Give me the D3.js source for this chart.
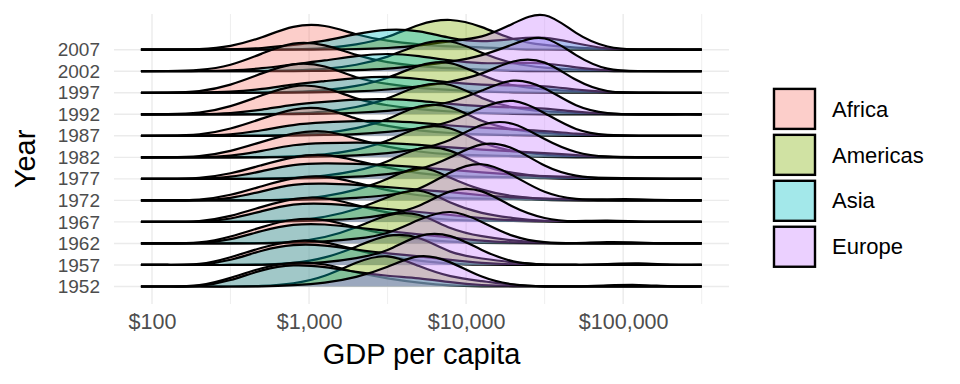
<!DOCTYPE html>
<html>
<head>
<meta charset="utf-8">
<script src="https://cdn.jsdelivr.net/npm/d3@7"></script>
<style>
  body { margin: 0; background: #fff; }
  svg text { font-family: "Liberation Sans", Arial, sans-serif; }
</style>
</head>
<body>
<div id="chart"></div>
<script>
// ---- data ----
const years = [1952, 1957, 1962, 1967, 1972, 1977, 1982, 1987, 1992, 1997, 2002, 2007];
const continents = ["Africa", "Americas", "Asia", "Europe"];
const colors = ["#F8766D", "#7CAE00", "#00BFC4", "#C77CFF"];
// GDP per capita values where the ridge heights were read
const gdpGrid = [85, 126, 200, 316, 501, 794, 1259, 1995, 3162, 5012, 7943, 12589, 19953, 31623, 50119, 79433, 125893, 199526, 316228];
const xTicks = [100, 1000, 10000, 100000];
const xMinor = [316, 3162, 31623, 316228];

// ridge heights (in row spacings), one row per year, 1952 first
const africa = [
  [0,0,0.06,0.4,0.85,1.1,1.02,0.66,0.38,0.18,0.05,0.01,0,0,0,0,0,0,0],
  [0,0,0.05,0.36,0.8,1.1,1.05,0.7,0.4,0.2,0.06,0.01,0,0,0,0,0,0,0],
  [0,0,0.05,0.32,0.76,1.1,1.08,0.74,0.42,0.2,0.08,0.03,0.01,0,0,0,0,0,0],
  [0,0,0.04,0.28,0.7,1.06,1.1,0.78,0.44,0.22,0.1,0.06,0.05,0.02,0,0,0,0,0],
  [0,0,0.04,0.26,0.66,1.02,1.1,0.82,0.48,0.24,0.12,0.08,0.07,0.02,0,0,0,0,0],
  [0,0,0.05,0.26,0.64,1.0,1.1,0.85,0.52,0.27,0.14,0.09,0.08,0.03,0,0,0,0,0],
  [0,0.01,0.06,0.3,0.72,1.1,1.2,0.86,0.5,0.27,0.14,0.09,0.06,0.02,0,0,0,0,0],
  [0,0.01,0.07,0.34,0.8,1.22,1.24,0.8,0.46,0.25,0.13,0.07,0.03,0.01,0,0,0,0,0],
  [0,0.01,0.08,0.38,0.88,1.3,1.22,0.74,0.42,0.24,0.13,0.06,0.02,0,0,0,0,0,0],
  [0,0.01,0.08,0.38,0.9,1.32,1.22,0.72,0.41,0.23,0.13,0.06,0.02,0,0,0,0,0,0],
  [0,0.01,0.06,0.3,0.82,1.28,1.2,0.76,0.42,0.24,0.14,0.07,0.02,0,0,0,0,0,0],
  [0,0,0.03,0.18,0.58,1.06,1.1,0.72,0.42,0.25,0.15,0.11,0.04,0.01,0,0,0,0,0]
];
const americas = [
  [0,0,0,0,0.03,0.15,0.5,1.1,1.4,0.95,0.48,0.25,0.08,0.01,0,0,0,0,0],
  [0,0,0,0,0.02,0.1,0.35,0.85,1.35,1.25,0.62,0.3,0.12,0.02,0,0,0,0,0],
  [0,0,0,0,0.02,0.08,0.3,0.75,1.3,1.32,0.72,0.34,0.14,0.03,0,0,0,0,0],
  [0,0,0,0,0.02,0.07,0.24,0.6,1.15,1.45,0.9,0.42,0.18,0.05,0.01,0,0,0,0],
  [0,0,0,0,0.01,0.06,0.2,0.5,1.0,1.5,1.05,0.5,0.2,0.07,0.01,0,0,0,0],
  [0,0,0,0,0.01,0.05,0.15,0.38,0.82,1.4,1.3,0.65,0.28,0.1,0.02,0,0,0,0],
  [0,0,0,0,0.01,0.05,0.14,0.36,0.78,1.36,1.34,0.7,0.3,0.12,0.04,0.01,0,0,0],
  [0,0,0,0,0.01,0.05,0.14,0.36,0.78,1.36,1.32,0.7,0.3,0.13,0.05,0.01,0,0,0],
  [0,0,0,0,0.01,0.04,0.13,0.34,0.74,1.3,1.36,0.76,0.32,0.14,0.06,0.01,0,0,0],
  [0,0,0,0,0.01,0.04,0.12,0.32,0.7,1.25,1.38,0.82,0.35,0.16,0.07,0.02,0,0,0],
  [0,0,0,0,0.01,0.04,0.11,0.3,0.68,1.22,1.38,0.86,0.38,0.17,0.08,0.02,0,0,0],
  [0,0,0,0,0.01,0.02,0.08,0.25,0.6,1.15,1.38,1.05,0.5,0.22,0.1,0.03,0,0,0]
];
const asia = [
  [0,0,0.03,0.3,0.75,0.98,0.9,0.68,0.5,0.38,0.2,0.07,0.02,0.01,0.01,0.05,0.07,0.01,0],
  [0,0,0.02,0.24,0.66,0.92,0.9,0.72,0.54,0.4,0.24,0.1,0.03,0.01,0.01,0.04,0.07,0.01,0],
  [0,0,0.02,0.2,0.58,0.86,0.88,0.74,0.58,0.42,0.28,0.13,0.05,0.02,0.02,0.06,0.04,0,0],
  [0,0,0.01,0.16,0.5,0.8,0.84,0.74,0.6,0.46,0.32,0.18,0.08,0.04,0.04,0.06,0.02,0,0],
  [0,0,0.01,0.12,0.42,0.72,0.78,0.72,0.62,0.5,0.38,0.24,0.14,0.08,0.04,0.05,0.05,0.01,0],
  [0,0,0.01,0.1,0.36,0.64,0.72,0.7,0.64,0.54,0.42,0.3,0.2,0.13,0.08,0.05,0.02,0,0],
  [0,0,0.01,0.08,0.3,0.56,0.66,0.68,0.66,0.58,0.46,0.36,0.28,0.2,0.1,0.03,0.01,0,0],
  [0,0,0.01,0.07,0.26,0.5,0.62,0.68,0.68,0.6,0.48,0.38,0.3,0.22,0.1,0.02,0,0,0],
  [0,0,0.01,0.06,0.22,0.44,0.58,0.68,0.7,0.62,0.48,0.38,0.32,0.26,0.12,0.03,0,0,0],
  [0,0,0.01,0.05,0.18,0.38,0.54,0.68,0.74,0.64,0.48,0.38,0.34,0.3,0.15,0.04,0,0,0],
  [0,0,0.01,0.04,0.14,0.32,0.5,0.7,0.8,0.7,0.5,0.38,0.38,0.36,0.18,0.04,0,0,0],
  [0,0,0,0.02,0.08,0.22,0.42,0.72,0.92,0.85,0.55,0.4,0.5,0.55,0.3,0.06,0.01,0,0]
];
const europe = [
  [0,0,0,0,0.01,0.06,0.18,0.45,0.92,1.4,1.12,0.46,0.1,0.01,0,0,0,0,0],
  [0,0,0,0,0.01,0.05,0.13,0.32,0.7,1.34,1.34,0.7,0.17,0.02,0,0,0,0,0],
  [0,0,0,0,0,0.04,0.1,0.22,0.5,1.1,1.46,1.0,0.35,0.06,0.01,0,0,0,0],
  [0,0,0,0,0,0.03,0.08,0.16,0.35,0.75,1.42,1.42,0.7,0.18,0.02,0,0,0,0],
  [0,0,0,0,0,0.02,0.06,0.12,0.25,0.55,1.3,1.68,1.15,0.4,0.07,0.01,0,0,0],
  [0,0,0,0,0,0.02,0.05,0.1,0.22,0.45,1.0,1.6,1.4,0.62,0.15,0.02,0,0,0],
  [0,0,0,0,0,0.01,0.04,0.09,0.2,0.4,0.82,1.5,1.55,0.85,0.25,0.03,0,0,0],
  [0,0,0,0,0,0.01,0.04,0.08,0.18,0.35,0.68,1.3,1.62,1.05,0.32,0.04,0,0,0],
  [0,0,0,0,0,0.01,0.03,0.07,0.16,0.32,0.58,1.1,1.56,1.2,0.42,0.06,0,0,0],
  [0,0,0,0,0,0.01,0.03,0.06,0.15,0.3,0.52,0.9,1.45,1.4,0.6,0.08,0.01,0,0],
  [0,0,0,0,0,0,0.02,0.05,0.12,0.26,0.45,0.75,1.25,1.52,0.75,0.12,0.01,0,0],
  [0,0,0,0,0,0,0.01,0.03,0.08,0.2,0.4,0.62,1.22,1.6,0.78,0.15,0.01,0,0]
];
const heights = [africa, americas, asia, europe];

// ---- layout ----
const width = 960, height = 384;
const panel = { left: 114, right: 729, top: 14, bottom: 304 };

const svg = d3.select("#chart").append("svg")
    .attr("width", width)
    .attr("height", height);

const x = d3.scaleLog()
    .domain([100, 316228])
    .range([152, 701.7]);

const y = d3.scalePoint()
    .domain(years.slice().reverse())
    .range([49.7, 286.5]);

const rowH = y.step();

// grid
let grid = svg.append("g").attr("class", "grid");
grid.selectAll(".vmajor")
    .data(xTicks)
    .enter().append("line")
    .attr("x1", d => x(d)).attr("x2", d => x(d))
    .attr("y1", panel.top).attr("y2", panel.bottom)
    .attr("stroke", "#EBEBEB")
    .attr("stroke-width", 1.4);
grid.selectAll(".vminor")
    .data(xMinor)
    .enter().append("line")
    .attr("x1", d => x(d)).attr("x2", d => x(d))
    .attr("y1", panel.top).attr("y2", panel.bottom)
    .attr("stroke", "#EBEBEB")
    .attr("stroke-width", 0.8);
grid.selectAll(".hmajor")
    .data(years)
    .enter().append("line")
    .attr("x1", panel.left).attr("x2", panel.right)
    .attr("y1", d => y(d)).attr("y2", d => y(d))
    .attr("stroke", "#EBEBEB")
    .attr("stroke-width", 1.4);

// ridges: top row first, lower rows drawn over it
let curve = d3.curveNatural;
let ridges = svg.append("g").attr("class", "ridges");

years.slice().reverse().forEach(year => {
    let yi = years.indexOf(year);
    let base = y(year);
    continents.forEach((c, ci) => {
        let pts = gdpGrid.map((g, i) => [g, heights[ci][yi][i]]);
        let area = d3.area()
            .x(d => x(d[0]))
            .y0(base)
            .y1(d => base - d[1] * rowH)
            .curve(curve);
        let line = d3.line()
            .x(d => x(d[0]))
            .y(d => base - d[1] * rowH)
            .curve(curve);
        ridges.append("path")
            .attr("d", area(pts))
            .attr("fill", colors[ci])
            .attr("fill-opacity", 0.36)
            .attr("stroke", "none");
        ridges.append("path")
            .attr("d", line(pts))
            .attr("fill", "none")
            .attr("stroke", "#000")
            .attr("stroke-width", 2.2)
            .attr("stroke-linejoin", "round");
    });
});

// axes
let xAxis = svg.append("g")
    .attr("transform", `translate(0,${panel.bottom})`)
    .call(d3.axisBottom(x)
        .tickValues(xTicks)
        .tickFormat(d3.format("$,"))
        .tickSize(0)
        .tickPadding(10));
xAxis.select(".domain").remove();
xAxis.selectAll("text")
    .attr("fill", "#4D4D4D")
    .style("font-size", "21.5px");

let yAxis = svg.append("g")
    .attr("transform", `translate(${panel.left},0)`)
    .call(d3.axisLeft(y)
        .tickSize(0)
        .tickPadding(14));
yAxis.select(".domain").remove();
yAxis.selectAll("text")
    .attr("fill", "#4D4D4D")
    .style("font-size", "19px");

svg.append("text")
    .attr("x", (panel.left + panel.right) / 2)
    .attr("y", 364)
    .attr("text-anchor", "middle")
    .style("font-size", "29px")
    .text("GDP per capita");

svg.append("text")
    .attr("transform", `translate(35,159) rotate(-90)`)
    .attr("text-anchor", "middle")
    .style("font-size", "29px")
    .text("Year");

// legend
let legend = svg.append("g").attr("class", "legend");
let keys = legend.selectAll("g")
    .data(continents)
    .enter().append("g")
    .attr("transform", (d, i) => `translate(774,${88.9 + i * 45.95})`);
keys.append("rect")
    .attr("width", 41)
    .attr("height", 40)
    .attr("fill", (d, i) => colors[i])
    .attr("fill-opacity", 0.36)
    .attr("stroke", "#000")
    .attr("stroke-width", 2.4);
keys.append("text")
    .attr("x", 58)
    .attr("y", 20)
    .attr("dy", "0.35em")
    .style("font-size", "22px")
    .text(d => d);
</script>
</body>
</html>
